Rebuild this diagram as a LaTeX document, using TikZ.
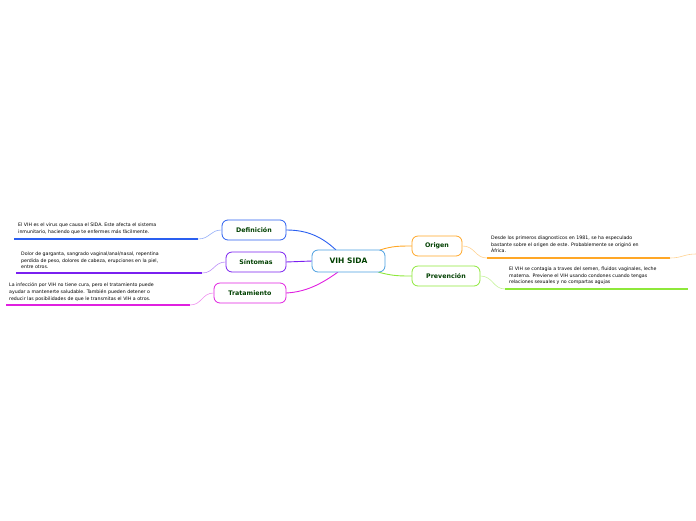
\documentclass[tikz,border=0pt]{standalone}
\usepackage{fontspec}
\setmainfont{DejaVu Sans}
\definecolor{cdef}{HTML}{2A5FF0}\definecolor{csin}{HTML}{7A20F0}\definecolor{ctra}{HTML}{E020E0}
\definecolor{cori}{HTML}{FFA726}\definecolor{cpre}{HTML}{8EE83A}\definecolor{cmain}{HTML}{4A9FE0}
\begin{document}
\begin{tikzpicture}[x=1pt,y=-1pt,
 topic/.style={draw=#1,rounded corners=6pt,line width=0.8pt,fill=white,font=\bfseries\fontsize{6.3}{7}\selectfont,text=green!25!black,inner sep=0pt,minimum height=20pt},
 leaf/.style={font=\fontsize{4.7}{6.6}\selectfont,text=black,align=left,anchor=north west,inner sep=0pt},
 uline/.style={draw=#1,line width=1.1pt},
 thin/.style={draw=#1!50,line width=0.6pt}]
\useasboundingbox (0,0) rectangle (696,520);
% connectors
\draw[cdef,line width=0.9pt] (336,250) .. controls (320,235) and (305,230) .. (286,230);
\draw[csin,line width=0.9pt] (312,261) -- (286,262);
\draw[ctra,line width=0.9pt] (338,272) .. controls (320,285) and (305,292) .. (286,293);
\draw[cori,line width=0.9pt] (380,250) .. controls (392,246) and (400,246) .. (412,246);
\draw[cpre,line width=0.9pt] (378,272) .. controls (392,276) and (400,276) .. (412,276);
\node[topic=cmain,minimum width=73pt,font=\bfseries\fontsize{7.5}{8}\selectfont,minimum height=22pt] (c) at (348.5,261) {VIH SIDA};
\node[topic=cdef,minimum width=64pt] (d) at (254,230) {Definición};
\node[topic=csin,minimum width=60pt] (s) at (256,262) {Síntomas};
\node[topic=ctra,minimum width=72pt] (t) at (250,293) {Tratamiento};
\node[topic=cori,minimum width=50pt] (o) at (437,246) {Origen};
\node[topic=cpre,minimum width=68pt] (p) at (446,276) {Prevención};
% leaves
\coordinate (d1) at (14,239); \coordinate (d2) at (198,239);
\path[uline=cdef] (d1) -- (d2);
\path[thin=cdef] (d2) .. controls (210,239) and (210,230) .. (d.west);
\node[leaf] (dt) at (18,223) {El VIH es el virus que causa el SIDA. Este afecta el sistema\\inmunitario, haciendo que te enfermes más fácilmente.};
\coordinate (s1) at (16,273); \coordinate (s2) at (202,273);
\path[uline=csin] (s1) -- (s2);
\path[thin=csin] (s2) .. controls (214,273) and (214,262) .. (s.west);
\node[leaf] (st) at (21,252) {Dolor de garganta, sangrado vaginal/anal/nasal, repentina\\perdida de peso, dolores de cabeza, erupciones en la piel,\\entre otros.};
\coordinate (t1) at (6,305); \coordinate (t2) at (190,305);
\path[uline=ctra] (t1) -- (t2);
\path[thin=ctra] (t2) .. controls (202,305) and (202,293) .. (t.west);
\node[leaf] (tt) at (9,283) {La infección por VIH no tiene cura, pero el tratamiento puede\\ayudar a mantenerte saludable. También pueden detener o\\reducir las posibilidades de que le transmitas el VIH a otros.};
\coordinate (o1) at (487,258); \coordinate (o2) at (670,258); \coordinate (o3) at (696,254);
\path[thin=cori] (o.east) .. controls (475,246) and (475,258) .. (o1);
\path[uline=cori] (o1) -- (o2);
\path[thin=cori] (o2) .. controls (682,258) and (684,254) .. (o3);
\node[leaf] (ot) at (491,236) {Desde los primeros diagnosticos en 1981, se ha especulado\\bastante sobre el origen de este. Probablemente se originó en\\África.};
\coordinate (p1) at (505,289); \coordinate (p2) at (688,289);
\path[thin=cpre] (p.east) .. controls (493,276) and (493,289) .. (p1);
\path[uline=cpre] (p1) -- (p2);
\node[leaf] (pt) at (509,267) {El VIH se contagia a traves del semen, fluidos vaginales, leche\\materna. Previene el VIH usando condones cuando tengas\\relaciones sexuales y no compartas agujas};
\end{tikzpicture}
\end{document}
